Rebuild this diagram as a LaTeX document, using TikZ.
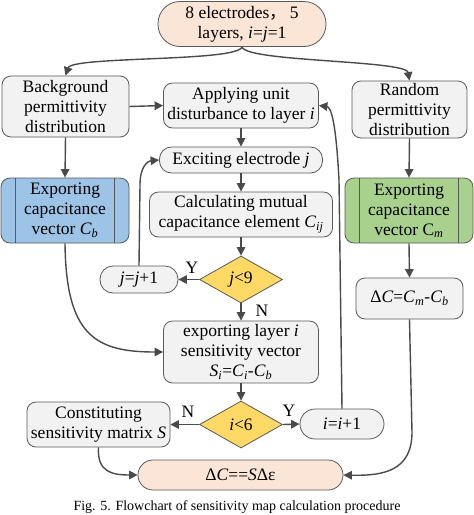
\documentclass[tikz,border=0pt]{standalone}
\usepackage{fontspec}
\setmainfont{Liberation Serif}
\newfontfamily\cjk{Noto Sans CJK SC}
\usetikzlibrary{shapes.geometric,arrows.meta}
\definecolor{peach}{HTML}{FBE5D6}
\definecolor{grayf}{HTML}{F2F2F2}
\definecolor{bluef}{HTML}{9DC3E6}
\definecolor{greenf}{HTML}{A9D18E}
\definecolor{yelf}{HTML}{FFD966}
\definecolor{bordc}{HTML}{595959}
\definecolor{linec}{HTML}{4A4A4A}
\newcommand\mysub[2]{\textit{#1}\textsubscript{\textit{#2}}}
\begin{document}
\begin{tikzpicture}[x=1pt,y=-1pt,font=\fontsize{17.5}{20}\selectfont,
  box/.style={draw=bordc,line width=0.8pt,fill=grayf,rounded corners=9pt,align=center,inner sep=0pt},
  dia/.style={draw=bordc,line width=0.8pt,fill=yelf,diamond,inner sep=0pt,minimum width=83pt,minimum height=47pt},
  arr/.style={draw=linec,line width=1.4pt,-{Triangle[length=8.5pt,width=8.5pt]}},
  lbl/.style={inner sep=0pt}]
\useasboundingbox (0,0) rectangle (474,515);

% nodes
\node[box,fill=peach,rounded corners=22pt,minimum width=168pt,minimum height=45pt] (top) at (242,24) {8 electrodes{\cjk ，}\,5\\layers, \textit{i}=\textit{j}=1};
\node[box,minimum width=127pt,minimum height=61pt] (bg) at (65.5,106.5) {Background\\permittivity\\distribution};
\node[box,minimum width=155pt,minimum height=45pt] (app) at (241,105.5) {Applying unit\\disturbance to layer \textit{i}};
\node[box,minimum width=115pt,minimum height=57pt] (rnd) at (409.5,109.5) {Random\\permittivity\\distribution};
\node[box,rounded corners=12pt,minimum width=163pt,minimum height=26pt] (exc) at (241,160) {Exciting electrode \textit{j}};
\node[box,fill=bluef,minimum width=128pt,minimum height=65pt] (cb) at (65,210.5) {Exporting\\capacitance\\vector \mysub{C}{b}};
\draw[draw=bordc,line width=0.8pt] ([xshift=15pt]cb.north west) -- ([xshift=15pt]cb.south west)
  ([xshift=-15pt]cb.north east) -- ([xshift=-15pt]cb.south east);
\node[box,fill=greenf,minimum width=128pt,minimum height=65pt] (cm) at (409,210.5) {Exporting\\capacitance\\vector C\textsubscript{\textit{m}}};
\draw[draw=bordc,line width=0.8pt] ([xshift=15pt]cm.north west) -- ([xshift=15pt]cm.south west)
  ([xshift=-15pt]cm.north east) -- ([xshift=-15pt]cm.south east);
\node[box,minimum width=183pt,minimum height=45pt] (calc) at (241,214.5) {Calculating mutual\\capacitance element \mysub{C}{ij}};
\node[dia] (d1) at (241,279.5) {\textit{j}<9};
\node[box,rounded corners=13pt,minimum width=78pt,minimum height=27pt] (jj) at (139,279.5) {\textit{j}=\textit{j}+1};
\node[box,minimum width=107pt,minimum height=41pt] (dc) at (409.5,298.5) {Δ\textit{C}=\mysub{C}{m}-\mysub{C}{b}};
\node[box,minimum width=155pt,minimum height=62pt] (exl) at (241,352) {exporting layer \textit{i}\\sensitivity vector\\\mysub{S}{i}=\mysub{C}{i}-\mysub{C}{b}};
\node[dia] (d2) at (241,424.5) {\textit{i}<6};
\node[box,minimum width=143pt,minimum height=45pt] (cons) at (98.5,424.5) {Constituting\\sensitivity matrix \textit{S}};
\node[box,rounded corners=15pt,minimum width=84pt,minimum height=30pt] (ii) at (342,424) {\textit{i}=\textit{i}+1};
\node[box,fill=peach,rounded corners=15pt,minimum width=205pt,minimum height=30pt] (sum) at (240.5,475) {Δ\textit{C}==\textit{S}Δε};

% labels
\node[lbl] (y1) at (192,268) {Y};
\node[lbl] (n1) at (262,311) {N};
\node[lbl] (n2) at (188,412) {N};
\node[lbl] (y2) at (289,411) {Y};

% connectors
\draw[arr] (top.south) .. controls (238,62) and (72,56) .. (bg.north);
\draw[arr] (top.south) .. controls (246,62) and (406,60) .. (rnd.north);
\draw[arr] (bg.east) -- (app.west);
\draw[arr] (bg.south) -- (cb.north);
\draw[arr] (rnd.south) -- (cm.north);
\draw[arr] (cm.south) -- (dc.north);
\draw[arr] (app.south) -- (exc.north);
\draw[arr] (exc.south) -- (calc.north);
\draw[arr] (calc.south) -- (d1.north);
\draw[arr] (d1.west) -- (jj.east);
\draw[arr] (jj.north) -- (140,185) .. controls (140,166) and (148,161) .. (exc.west);
\draw[arr] (d1.south) -- (exl.north);
\draw[arr] (cb.south) .. controls (66,335) and (95,352) .. (exl.west);
\draw[arr] (exl.south) -- (d2.north);
\draw[arr] (d2.west) -- (cons.east);
\draw[arr] (d2.east) -- (ii.west);
\draw[arr] (ii.north) -- (339,180) .. controls (336,122) and (331,107) .. (app.east);
\draw[arr] (dc.south) -- (412,432) .. controls (412,470) and (385,476) .. (sum.east);
\draw[arr] (cons.south) .. controls (97,472) and (112,475) .. (sum.west);

% caption
\node[lbl,anchor=base,font=\fontsize{14}{16}\selectfont] (cap) at (237,510.5) {Fig. 5. Flowchart of sensitivity map calculation procedure};
\end{tikzpicture}
\end{document}
